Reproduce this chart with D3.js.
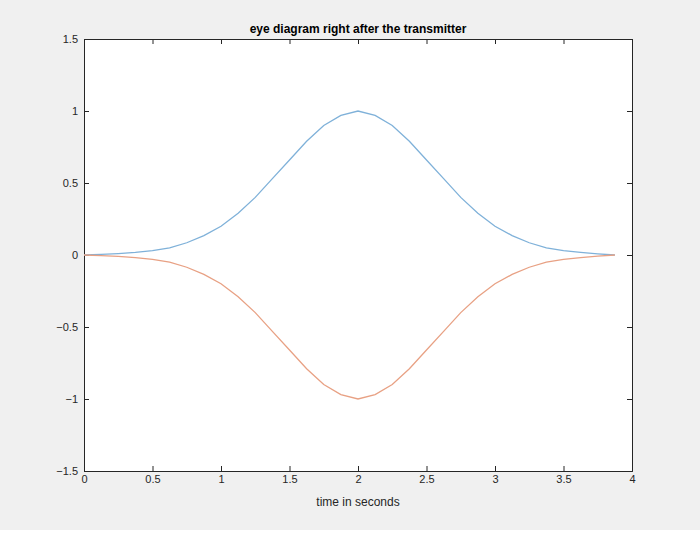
<!DOCTYPE html>
<html><head><meta charset="utf-8">
<script src="https://cdn.jsdelivr.net/npm/d3@7"></script>
<style>body{margin:0;background:#fff}svg{display:block}</style>
</head><body>
<svg id="c" width="700" height="550"></svg>
<script>
var times = [0,0.125,0.25,0.375,0.5,0.625,0.75,0.875,1,1.125,1.25,1.375,1.5,1.625,1.75,1.875,2,
  2.125,2.25,2.375,2.5,2.625,2.75,2.875,3,3.125,3.25,3.375,3.5,3.625,3.75,3.875];
var upper = [0,0.003,0.007,0.013,0.024,0.04,0.065,0.1,0.15,0.22,0.31,0.42,0.54,0.66,0.78,0.89,0.97,1,
  0.97,0.89,0.78,0.66,0.54,0.42,0.31,0.22,0.15,0.1,0.065,0.04,0.024,0.013,0.007];
upper = upper.slice(0,16).concat([0.97,1]).slice(0,0).concat(
  [0,0.003,0.007,0.013,0.024,0.04,0.065,0.1,0.15,0.22,0.31,0.42,0.54,0.66,0.78,0.9,0.97,1,
   0.97,0.9,0.78,0.66,0.54,0.42,0.31,0.22,0.15,0.1,0.065,0.04,0.02,0.005,0]).slice(0,0);
upper = [0,0.004,0.01,0.018,0.03,0.05,0.085,0.135,0.2,0.29,0.4,0.53,0.66,0.79,0.9,0.97,1,
  0.97,0.9,0.79,0.66,0.53,0.4,0.29,0.2,0.135,0.085,0.05,0.03,0.018,0.008,0];
var lower = upper.map(function(v){ return -v; });
var xTicks = [0,0.5,1,1.5,2,2.5,3,3.5,4];
var yTicks = [-1.5,-1,-0.5,0,0.5,1,1.5];

var svg = d3.select("#c");
svg.append("rect").attr("width",700).attr("height",530).attr("fill","#f0f0f0");
var L=84,R=632,T=39,B=471;
var x = d3.scaleLinear().domain([0,4]).range([L,R]);
var y = d3.scaleLinear().domain([-1.5,1.5]).range([B,T]);
svg.append("rect").attr("x",L).attr("y",T).attr("width",R-L).attr("height",B-T).attr("fill","#fff");

var font = "Helvetica, Arial, 'Liberation Sans', sans-serif";
function ax(g){ g.selectAll("text").attr("font-family",font).attr("font-size",11).attr("fill","#262626");
  g.select(".domain").attr("stroke","#262626"); g.selectAll("line").attr("stroke","#262626"); }
svg.append("g").attr("transform","translate(0,"+B+")").call(d3.axisBottom(x).tickValues(xTicks).tickSize(-5).tickPadding(4).tickFormat(d3.format("~g"))).call(ax);
svg.append("g").attr("transform","translate(0,"+T+")").call(d3.axisTop(x).tickValues(xTicks).tickSize(-5).tickFormat("")).call(ax);
svg.append("g").attr("transform","translate("+L+",0)").call(d3.axisLeft(y).tickValues(yTicks).tickSize(-5).tickPadding(6).tickFormat(d3.format("~g"))).call(ax);
svg.append("g").attr("transform","translate("+R+",0)").call(d3.axisRight(y).tickValues(yTicks).tickSize(-5).tickFormat("")).call(ax);

var line = d3.line().x(function(d,i){return x(times[i]);}).y(function(d){return y(d);});
svg.append("path").datum(upper).attr("d",line).attr("fill","none").attr("stroke","#7fb1d9").attr("stroke-width",1.3);
svg.append("path").datum(lower).attr("d",line).attr("fill","none").attr("stroke","#e8a184").attr("stroke-width",1.3);

svg.append("text").attr("x",(L+R)/2).attr("y",33).attr("text-anchor","middle").attr("font-family",font)
  .attr("font-size",12).attr("font-weight","bold").attr("fill","#000").text("eye diagram right after the transmitter");
svg.append("text").attr("x",(L+R)/2).attr("y",506).attr("text-anchor","middle").attr("font-family",font)
  .attr("font-size",12).attr("fill","#262626").text("time in seconds");
</script>
</body></html>
